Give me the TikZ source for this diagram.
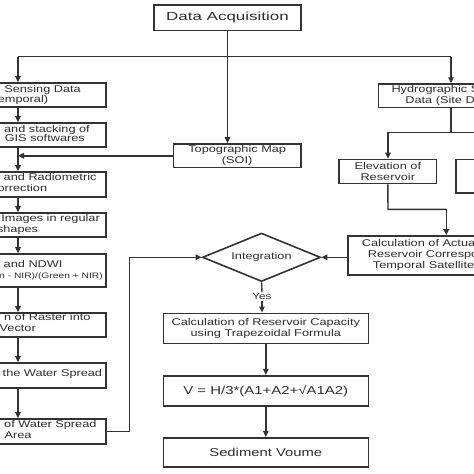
\documentclass[tikz,border=0pt]{standalone}
\usepackage{fontspec}
\setmainfont[FakeStretch=1.3]{Liberation Sans}
\newfontfamily\titlefont[FakeStretch=1.45]{Liberation Sans}
\usetikzlibrary{arrows.meta,shapes.geometric}
\definecolor{ink}{HTML}{333333}
\definecolor{txt}{HTML}{2E2E2E}
\tikzset{
  box/.style={draw=ink, line width=1.6pt, fill=white, rectangle, inner sep=0pt, align=center, text=txt, font=\fontsize{9.8}{11}\selectfont},
  lbox/.style={box, minimum width=176pt},
  ln/.style={inner sep=0pt, text height=7.2pt, text depth=2pt, text=txt, font=\fontsize{9.8}{11}\selectfont},
  conn/.style={draw=ink, line width=1.4pt},
  arr/.style={conn, -{Triangle[length=6pt,width=5.5pt]}},
}
\begin{document}
\begin{tikzpicture}[x=1pt,y=-1pt]
\useasboundingbox (0,0) rectangle (474,474);
\clip (0,0) rectangle (474,474);
\fill[white] (0,0) rectangle (474,474);

% top
\node[box, minimum width=147pt, minimum height=25.5pt, font=\titlefont\fontsize{11.7}{13}\selectfont] (da) at (227.5,17.75) {Data Acquisition};
\coordinate (jL) at (18,56.7);
\coordinate (jR) at (451,56.7);

% left column
\node[lbox, minimum height=24pt] (rs) at (18,95) {};
\node[lbox, minimum height=24pt] (ls) at (18,135) {};
\node[lbox, minimum height=25pt] (rc) at (18,184.5) {};
\node[lbox, minimum height=24pt] (im) at (18,225) {};
\node[lbox, minimum height=33pt] (nd) at (18,270.5) {};
\node[lbox, minimum height=24pt] (rv) at (18,325) {};
\node[lbox, minimum height=25pt] (ws) at (18,375.5) {};
\node[lbox, minimum height=25pt] (wa) at (18,431.5) {};

\node[ln, anchor=east] (t1) at (81,89.5) {Sensing Data};
\node[ln, anchor=east] (t2) at (48.3,100) {emporal)};
\node[ln, anchor=east] (t3) at (90,129.5) {and stacking of};
\node[ln, anchor=east] (t4) at (85,139.3) {GIS softwares};
\node[ln, anchor=east] (t5) at (96.7,178) {and Radiometric};
\node[ln, anchor=east] (t6) at (47.3,188.7) {orrection};
\node[ln, anchor=east] (t7) at (100,218.8) {Images in regular};
\node[ln, anchor=east] (t8) at (38.3,229.5) {shapes};
\node[ln, anchor=east] (t9) at (62.7,264.7) {and NDWI};
\node[ln, anchor=east, font=\fontsize{7.9}{9}\selectfont, text height=6pt, text depth=1.6pt] (t10) at (103,276) {n - NIR)/(Green + NIR)};
\node[ln, anchor=east] (t11) at (90.7,318.3) {n of Raster into};
\node[ln, anchor=east] (t12) at (36,329.3) {Vector};
\node[ln, anchor=east] (t13) at (102.3,374) {the Water Spread};
\node[ln, anchor=east] (t14) at (96.7,425) {of Water Spread};
\node[ln, anchor=east] (t15) at (31.7,436) {Area};

% middle
\node[box, minimum width=127.7pt, minimum height=23.7pt] (topo) at (237.2,155.8) {Topographic Map\\(SOI)};
\node[draw=ink, line width=1.6pt, fill=white, diamond, aspect=2.46, minimum width=118pt, minimum height=48.5pt, inner sep=0pt, text=txt, font=\fontsize{9.8}{11}\selectfont] (dia) at (261.5,257.3) {Integration};
\node[inner sep=1pt, text=txt, font=\fontsize{9}{10}\selectfont] (yes) at (262,296.5) {Yes};
\node[box, minimum width=205pt, minimum height=30pt] (cap) at (265.8,328.3) {Calculation of Reservoir Capacity\\using Trapezoidal Formula};
\node[box, minimum width=205pt, minimum height=30pt, font=\fontsize{11.5}{13}\selectfont] (vol) at (265.8,390.7) {V = H/3*(A1+A2+√A1A2)};
\node[box, minimum width=205pt, minimum height=29pt, font=\fontsize{11.4}{13}\selectfont] (sed) at (265.8,452.2) {Sediment Voume};

% right
\node[box, minimum width=145.4pt, minimum height=23.3pt] (hy) at (451,95.7) {Hydrographic Survey\\Data (Site Data)};
\node[box, minimum width=97.7pt, minimum height=24pt] (el) at (387.8,171.5) {Elevation of\\Reservoir};
\node[box, minimum width=90pt, minimum height=33.4pt] (ot) at (501,176) {};
\node[box, minimum width=197pt, minimum height=39pt] (ca) at (446.5,255.5) {};
\node[ln, anchor=west] (c1) at (361.7,244.3) {Calculation of Actual};
\node[ln, anchor=west] (c2) at (367.7,255.3) {Reservoir Corresponding};
\node[ln, anchor=west] (c3) at (372.7,266) {Temporal Satellite};
\coordinate (hj) at (451,132.3);
\coordinate (hl) at (388,132.3);
\coordinate (hr) at (501,132.3);
\coordinate (ej) at (388,209.3);
\coordinate (ek) at (446.3,209.3);
\coordinate (lp1) at (129.5,431.7);
\coordinate (lp2) at (129.5,257.3);

% connectors
\draw[conn] (da.south) -- (da.south |- jL);
\draw[arr] (da.south |- jL) -- (da.south |- topo.north);
\draw[conn] (jL) -- (jR);
\draw[arr] (jL) -- (rs.north);
\draw[arr] (jR) -- (hy.north);
\draw[arr] (rs.south) -- (ls.north);
\draw[arr] (ls.south) -- (rc.north);
\draw[arr] (rc.south) -- (im.north);
\draw[arr] (im.south) -- (nd.north);
\draw[arr] (nd.south) -- (rv.north);
\draw[arr] (rv.south) -- (ws.north);
\draw[arr] (ws.south) -- (wa.north);
\draw[arr] (topo.west) -- (topo.west -| ls.south);
\draw[arr] (wa.east |- lp1) -- (lp1) -- (lp2) -- (dia.west);
\draw[arr] (ca.west |- dia.east) -- (dia.east);
\draw[conn] (dia.south) -- (yes.north);
\draw[arr] (yes.south) -- (yes.south |- cap.north);
\draw[arr] (cap.south) -- (vol.north);
\draw[arr] (vol.south) -- (sed.north);
\draw[conn] (hy.south) -- (hj);
\draw[conn] (hl) -- (hr);
\draw[arr] (hl) -- (hl |- el.north);
\draw[arr] (hr) -- (hr |- ot.north);
\draw[conn] (el.south) -- (ej) -- (ek);
\draw[arr] (ek) -- (ek |- ca.north);
\end{tikzpicture}
\end{document}
